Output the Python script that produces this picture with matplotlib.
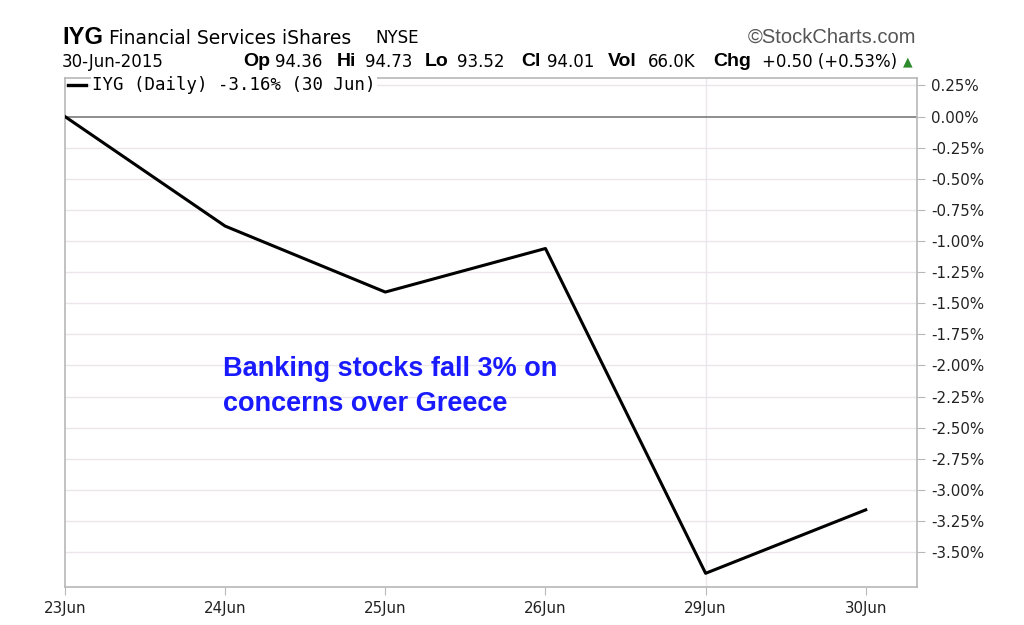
import matplotlib
matplotlib.use("Agg")
import matplotlib.pyplot as plt
import numpy as np

# Data
dates  = ["23Jun", "24Jun", "25Jun", "26Jun", "29Jun", "30Jun"]
pct    = [0.0, -0.88, -1.41, -1.06, -3.67, -3.16]
yticks = [0.25, 0.0, -0.25, -0.5, -0.75, -1.0, -1.25, -1.5, -1.75, -2.0,
          -2.25, -2.5, -2.75, -3.0, -3.25, -3.5]

plt.rcParams["font.family"] = ["Liberation Sans", "DejaVu Sans"]

fig = plt.figure(figsize=(10.24, 6.25), dpi=100)
ax = fig.add_axes([65/1024, 1 - 587/625, (917 - 65)/1024, (587 - 78)/625])

x = np.arange(len(dates))
ax.plot(x, pct, color="black", lw=2.2, zorder=3)

ax.set_xlim(0, 5.32)
ax.set_ylim(-3.78, 0.31)

# grid
for yv in yticks:
    if yv == 0:
        ax.axhline(yv, color="#7a7a7a", lw=1.2, zorder=2)
    else:
        ax.axhline(yv, color="#ece6ec", lw=1.0, zorder=1)
ax.axvline(4, color="#ece6ec", lw=1.0, zorder=1)

for s in ax.spines.values():
    s.set_color("#b8b8b8")
    s.set_linewidth(1.2)

ax.yaxis.tick_right()
ax.set_yticks(yticks)
ax.set_yticklabels([f"{v:.2f}%" for v in yticks], fontsize=10.8,
                   family="DejaVu Sans")
ax.set_xticks(x)
ax.set_xticklabels(dates, fontsize=10.8, family="DejaVu Sans")
ax.tick_params(axis="both", direction="out", length=6, color="#b8b8b8",
               pad=4, labelcolor="#222222")

# legend label
ax.text(0.032, 0.252, "IYG (Daily) -3.16% (30 Jun)", fontsize=12.5,
        family="DejaVu Sans Mono", va="center", ha="left", zorder=4,
        transform=ax.get_yaxis_transform(),
        bbox=dict(facecolor="white", edgecolor="none", pad=1))
ax.plot([0.004, 0.025], [0.252, 0.252], transform=ax.get_yaxis_transform(),
        color="black", lw=2.4, zorder=5)

# annotation
ax.text(0.985, -2.17, "Banking stocks fall 3% on\nconcerns over Greece",
        color="#1a1aff", fontsize=19.5, fontweight="bold", va="center",
        ha="left", linespacing=1.45)

# header
fig.text(62/1024, 1 - 37/625, "IYG", fontsize=17, fontweight="bold", va="center")
fig.text(109/1024, 1 - 38/625, "Financial Services iShares", fontsize=13.5,
         va="center", family="DejaVu Sans")
fig.text(375/1024, 1 - 38/625, "NYSE", fontsize=12, va="center", family="DejaVu Sans")
fig.text(916/1024, 1 - 37/625, "\u00a9StockCharts.com", fontsize=14.5, va="center",
         ha="right", color="#555555")

y2 = 1 - 62/625
parts = [(62, "30-Jun-2015", False), (243, "Op", True), (275, "94.36", False),
         (337, "Hi", True), (365, "94.73", False), (425, "Lo", True),
         (457, "93.52", False), (521, "Cl", True), (547, "94.01", False),
         (608, "Vol", True), (648, "66.0K", False), (713, "Chg", True),
         (762, "+0.50 (+0.53%)", False)]
for px, txt, bold in parts:
    if bold:
        fig.text(px/1024, y2, txt, fontsize=14, va="center", fontweight="bold")
    else:
        fig.text(px/1024, y2, txt, fontsize=12, va="center", family="DejaVu Sans")
fig.text(903/1024, y2, "\u25b2", fontsize=9, va="center", color="#2e8b2e",
         family="DejaVu Sans")

fig.savefig("out.png", dpi=100)
